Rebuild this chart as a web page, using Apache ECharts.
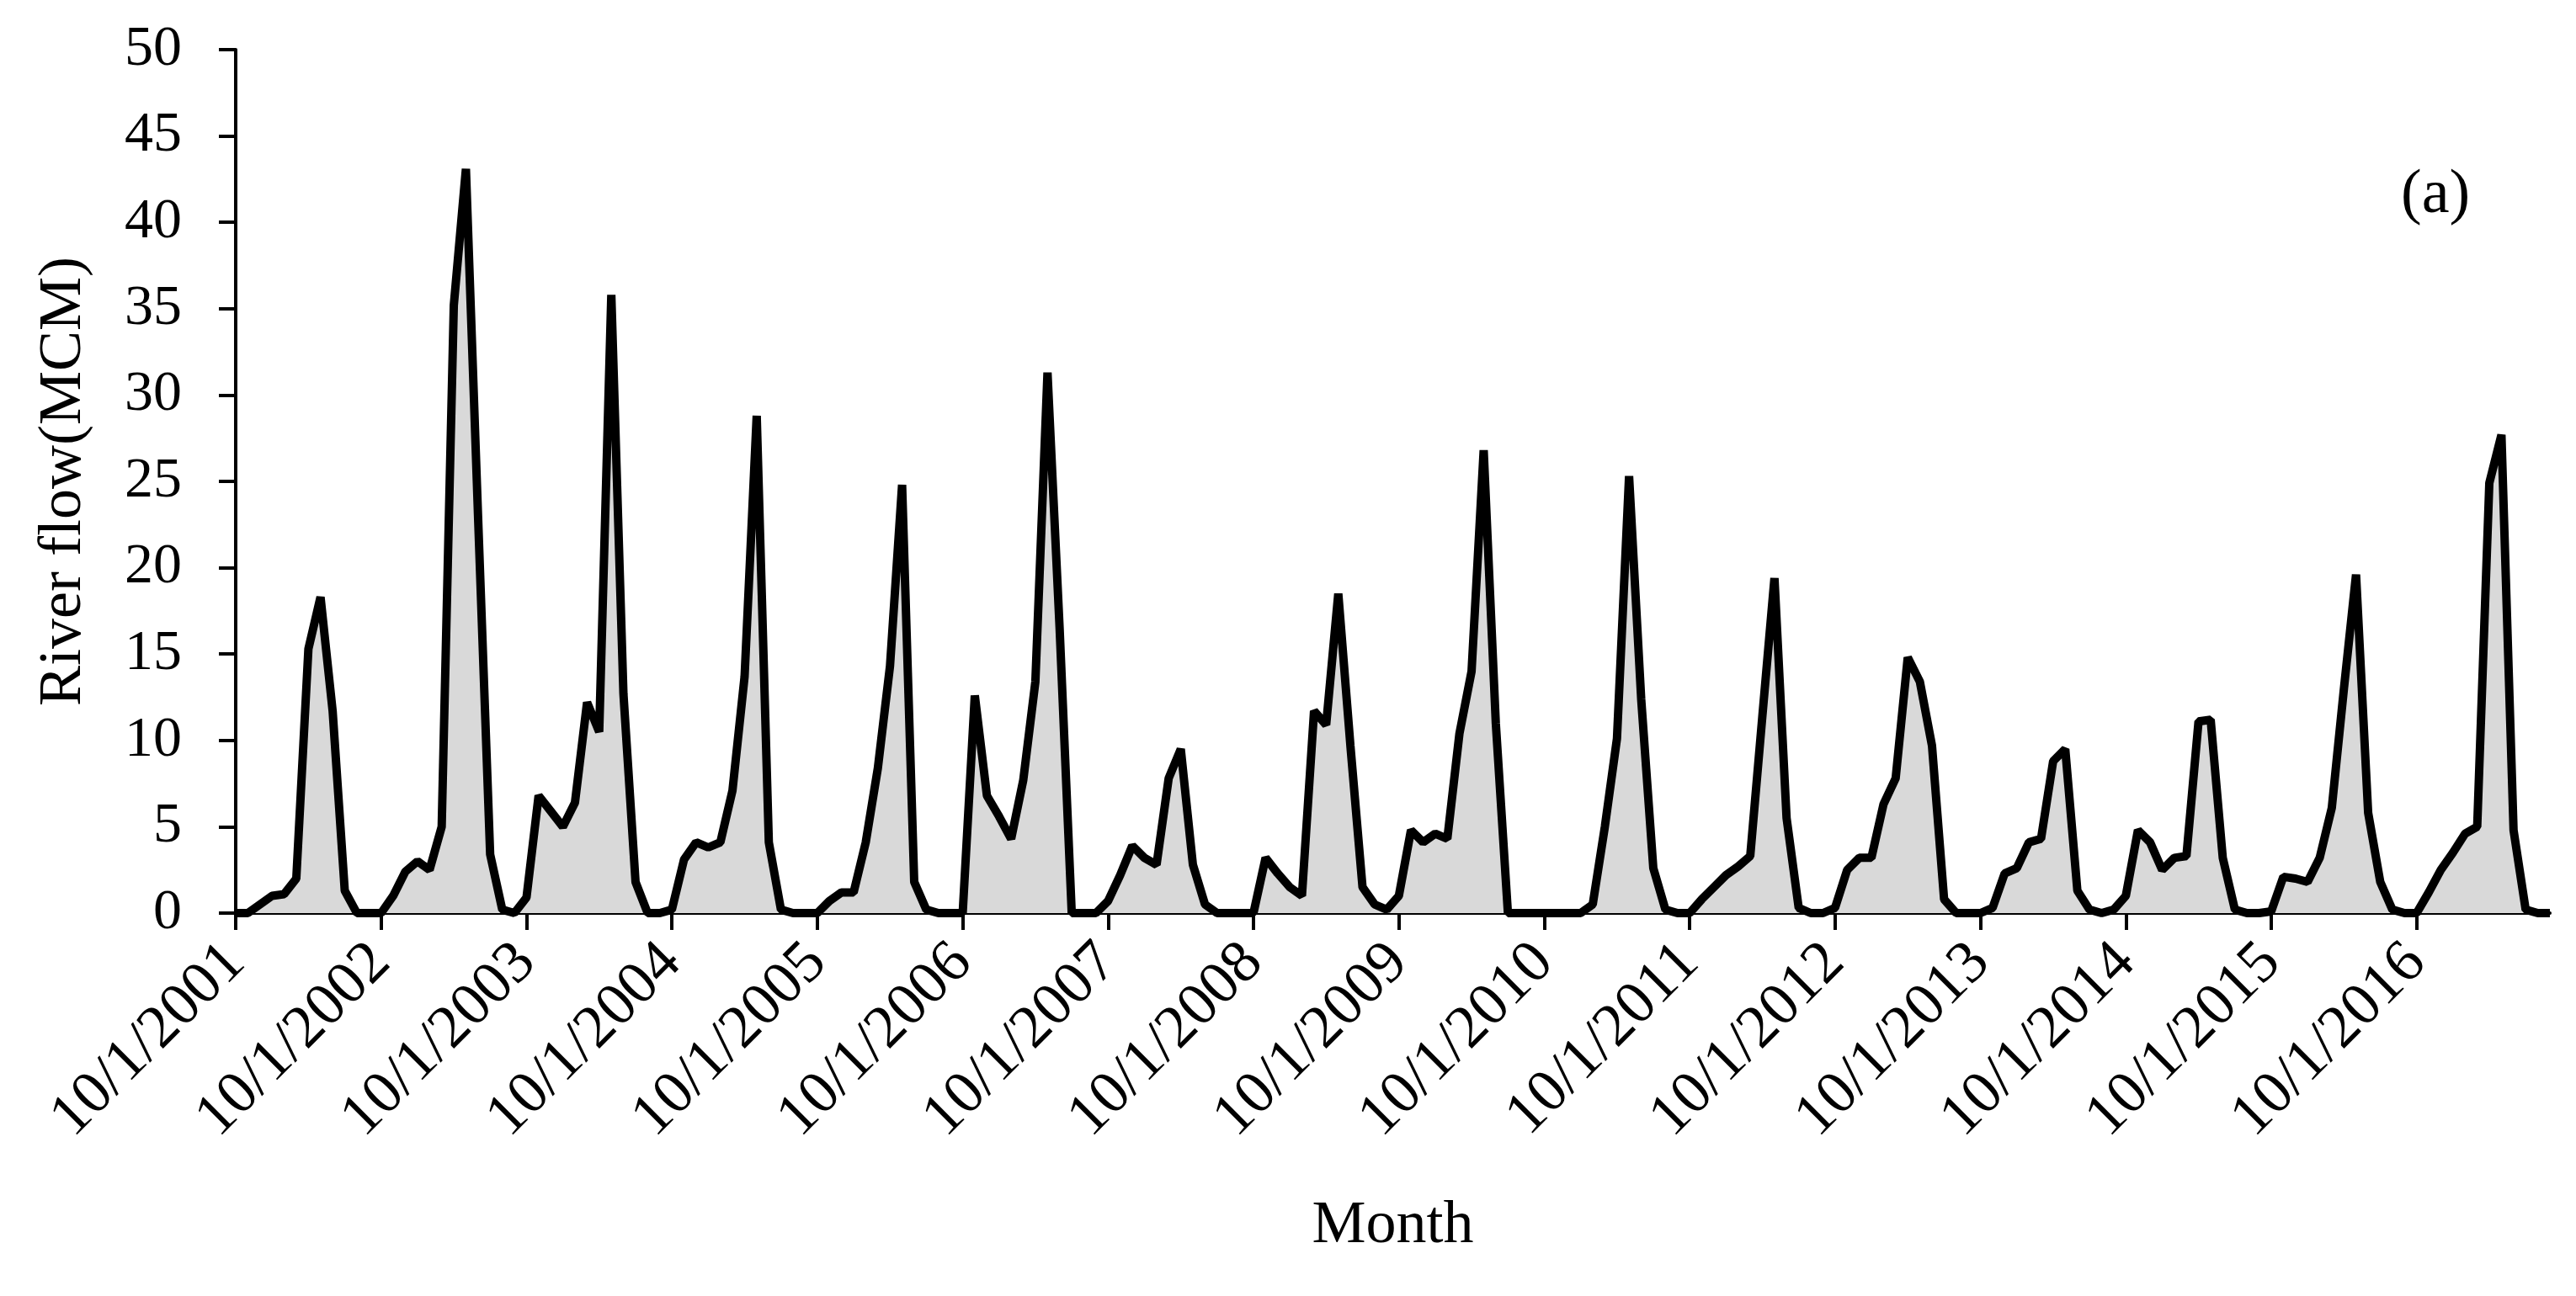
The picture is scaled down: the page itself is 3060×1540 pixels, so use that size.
<!DOCTYPE html>
<html>
<head>
<meta charset="utf-8">
<script src="https://cdn.jsdelivr.net/npm/echarts@6/dist/echarts.min.js"></script>
<style>
html,body{margin:0;padding:0;background:#ffffff;}
#chart{width:3060px;height:1540px;}
</style>
</head>
<body>
<div id="chart"></div>
<script>
// Tick labels (start of each water year)
const tickLabels = ['10/1/2001','10/1/2002','10/1/2003','10/1/2004','10/1/2005','10/1/2006','10/1/2007','10/1/2008',
  '10/1/2009','10/1/2010','10/1/2011','10/1/2012','10/1/2013','10/1/2014','10/1/2015','10/1/2016'];
const startYears = [2001,2002,2003,2004,2005,2006,2007,2008,2009,2010,2011,2012,2013,2014,2015,2016];
const monthNumbers = [10,11,12,1,2,3,4,5,6,7,8,9];

// Monthly river flow (MCM), Oct..Sep of each water year
const wy2001 = [0, 0, 0.5, 1.0, 1.1, 2.0, 15.3, 18.3, 11.7, 1.3, 0, 0];
const wy2002 = [0, 1.0, 2.4, 3.0, 2.5, 5.0, 35.2, 43.1, 23.0, 3.4, 0.2, 0];
const wy2003 = [0.9, 6.8, 5.9, 5.0, 6.4, 12.2, 10.5, 35.8, 12.7, 1.8, 0, 0];
const wy2004 = [0.2, 3.1, 4.1, 3.8, 4.1, 7.1, 13.7, 28.8, 4.1, 0.2, 0, 0];
const wy2005 = [0, 0.7, 1.2, 1.2, 4.1, 8.4, 14.3, 24.8, 1.8, 0.2, 0, 0];
const wy2006 = [0, 12.6, 6.8, 5.6, 4.3, 7.7, 13.4, 31.3, 16.5, 0, 0, 0];
const wy2007 = [0.7, 2.2, 3.9, 3.2, 2.8, 7.8, 9.5, 2.8, 0.5, 0, 0, 0];
const wy2008 = [0, 3.2, 2.3, 1.5, 1.0, 11.7, 10.9, 18.5, 9.7, 1.5, 0.5, 0.2];
const wy2009 = [1.0, 4.8, 4.1, 4.6, 4.3, 10.4, 14.0, 26.8, 11.0, 0, 0, 0];
const wy2010 = [0, 0, 0, 0, 0.5, 5.0, 10.1, 25.3, 12.4, 2.6, 0.2, 0];
const wy2011 = [0, 0.8, 1.5, 2.2, 2.7, 3.3, 11.4, 19.4, 5.5, 0.3, 0, 0];
const wy2012 = [0.3, 2.5, 3.2, 3.2, 6.3, 7.8, 14.8, 13.4, 9.7, 0.8, 0, 0];
const wy2013 = [0, 0.3, 2.3, 2.6, 4.1, 4.3, 8.8, 9.5, 1.3, 0.2, 0, 0.2];
const wy2014 = [1.0, 4.8, 4.1, 2.5, 3.2, 3.3, 11.1, 11.2, 3.2, 0.2, 0, 0];
const wy2015 = [0.1, 2.1, 2.0, 1.8, 3.2, 6.1, 13.0, 19.6, 5.8, 1.8, 0.2, 0];
const wy2016 = [0, 1.2, 2.5, 3.5, 4.6, 5.0, 24.9, 27.7, 4.8, 0.2, 0, 0];

const yearly = [wy2001, wy2002, wy2003, wy2004, wy2005, wy2006, wy2007, wy2008,
  wy2009, wy2010, wy2011, wy2012, wy2013, wy2014, wy2015, wy2016];

const categories = [];
const flow = [];
startYears.forEach(function (y, i) {
  monthNumbers.forEach(function (mo, k) {
    categories.push(k === 0 ? tickLabels[i] : mo + '/1/' + (mo >= 10 ? y : y + 1));
    flow.push(yearly[i][k]);
  });
});

const FONT = '"Liberation Serif", "Times New Roman", serif';
const chart = echarts.init(document.getElementById('chart'), null, {renderer: 'canvas'});
chart.setOption({
  backgroundColor: '#ffffff',
  animation: false,
  grid: {left: 280, right: 31, top: 59, bottom: 455, containLabel: false},
  xAxis: {
    type: 'category',
    data: categories,
    boundaryGap: false,
    name: 'Month',
    nameLocation: 'middle',
    nameGap: 336,
    nameTextStyle: {fontFamily: FONT, fontSize: 72, color: '#000'},
    axisLine: {show: true, lineStyle: {color: '#000', width: 4}},
    axisTick: {show: true, interval: 11, length: 20, inside: false, lineStyle: {color: '#000', width: 4}},
    axisLabel: {
      interval: 11, rotate: 45, margin: 48,
      fontFamily: FONT, fontSize: 72, color: '#000'
    },
    splitLine: {show: false}
  },
  yAxis: {
    type: 'value',
    min: 0, max: 50, interval: 5,
    name: 'River flow(MCM)',
    nameLocation: 'middle',
    nameGap: 168,
    nameRotate: 90,
    nameTextStyle: {fontFamily: FONT, fontSize: 72, color: '#000'},
    axisLine: {show: true, lineStyle: {color: '#000', width: 4}},
    axisTick: {show: true, length: 20, lineStyle: {color: '#000', width: 4}},
    axisLabel: {margin: 64, fontFamily: FONT, fontSize: 68, color: '#000'},
    splitLine: {show: false}
  },
  graphic: [{
    type: 'text',
    left: 2852, top: 196,
    style: {text: '(a)', font: '74px "Liberation Serif", "Times New Roman", serif', fill: '#000'}
  }],
  series: [{
    type: 'line',
    data: flow,
    symbol: 'none',
    smooth: false,
    clip: true,
    lineStyle: {color: '#000', width: 10, join: 'bevel'},
    areaStyle: {color: '#d9d9d9', opacity: 1, origin: 'start'},
    z: 2
  }]
});
</script>
</body>
</html>
